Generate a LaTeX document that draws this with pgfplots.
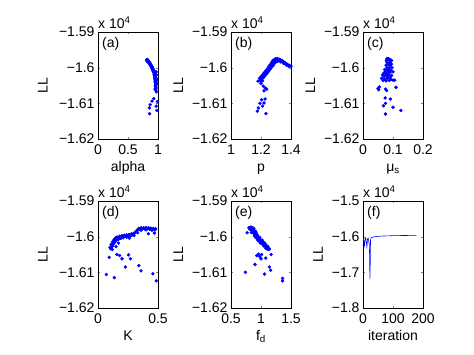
\documentclass[border=0pt]{standalone}
\usepackage{fontspec}
\setmainfont{Liberation Sans}
\usepackage{pgfplots}
\pgfplotsset{compat=1.18}
\definecolor{mblue}{RGB}{0,0,255}
\pgfplotsset{
  panel/.style={
    width=60pt, height=107pt, scale only axis, anchor=south west,
    clip mode=individual,
    tick align=inside, major tick length=2pt,
    ymin=-1.62, ymax=-1.59,
    ytick={-1.62,-1.61,-1.6,-1.59},
    yticklabels={−1.62,−1.61,−1.6,−1.59},
    ylabel={LL},
    ylabel style={at={(axis description cs:-0.88,0.5)}, anchor=center, rotate=0},
    xlabel style={at={(axis description cs:0.5,-0.30)}, anchor=base},
    every tick label/.append style={font=\fontsize{14}{16}\selectfont},
    xticklabel style={yshift=-2.5pt},
    label style={font=\fontsize{14}{16}\selectfont},
    /pgf/number format/assume math mode=true,
  },
  dots/.style={only marks, mark=*, mark size=1.5pt, color=mblue},
}
\newcommand{\tenfour}{\node[anchor=base west, inner sep=0pt, font=\fontsize{14}{16}\selectfont] at (rel axis cs:0,1) [yshift=3.5pt] {x 10\textsuperscript{4}};}
\newcommand{\plabel}[1]{\node[anchor=base west, inner sep=0pt, font=\fontsize{14}{16}\selectfont] at (rel axis cs:0,1) [xshift=4pt, yshift=-16pt] {#1};}
\begin{document}
\begin{tikzpicture}
\path[use as bounding box] (0,0) rectangle (474pt,355pt);
% (a)
\begin{axis}[panel, at={(98pt,216pt)}, xmin=0, xmax=1, xtick={0,0.5,1}, xticklabels={0,0.5,1}, xlabel={alpha},
  ylabel style={at={(axis description cs:-0.92,0.5)}}]
\addplot[dots] coordinates {
(0.81,-1.5978)(0.82,-1.5977)(0.83,-1.5979)(0.84,-1.5980)(0.85,-1.5983)(0.86,-1.5985)(0.87,-1.5988)(0.88,-1.5991)(0.89,-1.5994)(0.90,-1.5997)(0.91,-1.6000)(0.92,-1.6004)(0.93,-1.6008)(0.94,-1.6012)(0.945,-1.6016)(0.95,-1.6020)(0.955,-1.6025)(0.96,-1.6030)(0.96,-1.6035)(0.965,-1.6040)(0.965,-1.6046)(0.965,-1.6052)(0.96,-1.6058)(0.965,-1.6063)(0.97,-1.6068)
(0.82,-1.5982)(0.84,-1.5986)(0.86,-1.5990)(0.88,-1.5996)(0.90,-1.6003)(0.92,-1.6010)(0.935,-1.6018)(0.945,-1.6026)(0.95,-1.6034)(0.955,-1.6042)(0.955,-1.6050)(0.95,-1.6060)(0.975,-1.6020)(0.98,-1.6035)(0.985,-1.6045)
(0.815,-1.5980)(0.835,-1.5983)(0.855,-1.5987)(0.875,-1.5993)(0.895,-1.6000)(0.915,-1.6007)(0.93,-1.6014)(0.94,-1.6022)(0.948,-1.6030)(0.952,-1.6038)(0.958,-1.6046)(0.96,-1.6054)(0.97,-1.6057)(0.975,-1.6030)(0.97,-1.6012)
(0.93,-1.6087)(0.90,-1.6094)(0.87,-1.6104)(0.855,-1.6113)(0.86,-1.6129)(0.97,-1.6108)(0.98,-1.612)(0.99,-1.6095)
};
\tenfour \plabel{(a)}
\end{axis}
% (b)
\begin{axis}[panel, at={(231pt,216pt)}, xmin=1, xmax=1.4, xtick={1,1.2,1.4}, xticklabels={1,1.2,1.4}, xlabel={p}]
\addplot[dots] coordinates {
(1.19,-1.6030)(1.20,-1.6025)(1.21,-1.6020)(1.22,-1.6015)(1.23,-1.6010)(1.24,-1.6004)(1.25,-1.5998)(1.26,-1.5992)(1.27,-1.5986)(1.28,-1.5980)(1.29,-1.5977)
(1.21,-1.6030)(1.22,-1.6026)(1.23,-1.6021)(1.24,-1.6016)(1.25,-1.6010)(1.26,-1.6005)(1.27,-1.5999)(1.28,-1.5994)(1.29,-1.5988)(1.30,-1.5984)(1.31,-1.5982)
(1.20,-1.6033)(1.215,-1.6028)(1.225,-1.6020)(1.235,-1.6014)(1.245,-1.6008)(1.255,-1.6002)(1.265,-1.5996)(1.275,-1.5990)(1.285,-1.5984)(1.295,-1.5979)(1.305,-1.5978)(1.315,-1.5979)(1.325,-1.5981)(1.345,-1.5985)(1.365,-1.5991)(1.385,-1.5996)
(1.30,-1.5975)(1.31,-1.5975)(1.32,-1.5976)(1.33,-1.5978)(1.34,-1.5980)(1.35,-1.5983)(1.36,-1.5986)(1.37,-1.5989)(1.38,-1.5992)(1.39,-1.5994)(1.40,-1.5996)(1.33,-1.5984)(1.35,-1.5988)(1.37,-1.5993)
(1.18,-1.6038)(1.195,-1.6038)(1.21,-1.6037)(1.20,-1.6045)
(1.227,-1.6057)(1.238,-1.606)(1.215,-1.6052)(1.22,-1.6065)(1.204,-1.609)(1.227,-1.6088)(1.193,-1.61)(1.22,-1.6099)(1.182,-1.6113)(1.176,-1.6122)(1.233,-1.6129)(1.21,-1.6108)
};
\tenfour \plabel{(b)}
\end{axis}
% (c)
\begin{axis}[panel, at={(363pt,216pt)}, xmin=0, xmax=0.2, xtick={0,0.1,0.2}, xticklabels={0,0.1,0.2}, xlabel={μ\textsubscript{s}}]
\addplot[dots] coordinates {
(0.08,-1.5975)(0.085,-1.5975)(0.09,-1.5977)(0.078,-1.598)(0.088,-1.598)(0.095,-1.598)(0.08,-1.5985)(0.09,-1.5985)(0.085,-1.599)(0.095,-1.599)(0.077,-1.5993)(0.09,-1.5995)(0.08,-1.6)(0.088,-1.6)(0.097,-1.6)(0.072,-1.6005)(0.083,-1.6005)(0.093,-1.6007)(0.075,-1.601)(0.085,-1.601)(0.07,-1.6015)(0.08,-1.6015)(0.09,-1.6013)(0.1,-1.6012)(0.065,-1.602)(0.075,-1.602)(0.085,-1.602)(0.095,-1.6022)(0.07,-1.6026)(0.08,-1.6025)(0.09,-1.6027)(0.062,-1.603)(0.072,-1.6032)(0.082,-1.603)(0.093,-1.6033)(0.1,-1.6035)(0.067,-1.6036)(0.077,-1.6037)(0.088,-1.6036)(0.106,-1.6035)
(0.052,-1.6062)(0.055,-1.6054)(0.075,-1.606)(0.079,-1.6064)(0.11,-1.6055)(0.074,-1.6085)(0.091,-1.6088)(0.075,-1.61)(0.068,-1.6107)(0.1,-1.6111)(0.126,-1.612)(0.075,-1.613)(0.05,-1.6058)
};
\tenfour \plabel{(c)}
\end{axis}
% (d)
\begin{axis}[panel, at={(98pt,47pt)}, xmin=0, xmax=0.5, xtick={0,0.5}, xticklabels={0,0.5}, xlabel={K},
  ylabel style={at={(axis description cs:-0.92,0.5)}}]
\addplot[dots] coordinates {
(0.10,-1.6030)(0.11,-1.6022)(0.12,-1.6015)(0.13,-1.6010)(0.14,-1.6006)(0.15,-1.6003)(0.16,-1.6001)(0.18,-1.5999)(0.20,-1.5997)(0.22,-1.5996)(0.24,-1.5995)(0.26,-1.5994)(0.28,-1.5992)(0.30,-1.5990)(0.32,-1.5984)(0.33,-1.5980)(0.34,-1.5977)(0.36,-1.5975)(0.38,-1.5975)(0.40,-1.5975)(0.42,-1.5975)(0.44,-1.5976)(0.46,-1.5977)(0.48,-1.5978)
(0.11,-1.6033)(0.12,-1.6027)(0.13,-1.6020)(0.14,-1.6015)(0.15,-1.6011)(0.17,-1.6008)(0.19,-1.6005)(0.21,-1.6003)(0.24,-1.6001)(0.27,-1.5999)(0.30,-1.5997)(0.33,-1.5989)(0.36,-1.5982)(0.40,-1.5981)(0.45,-1.5982)
(0.105,-1.6034)(0.115,-1.6027)(0.125,-1.6022)(0.135,-1.6016)(0.145,-1.6010)(0.155,-1.6007)(0.165,-1.6005)(0.185,-1.6002)(0.205,-1.6000)(0.225,-1.5999)(0.25,-1.5997)(0.29,-1.5995)(0.31,-1.5989)(0.325,-1.5984)(0.345,-1.5980)(0.37,-1.5978)(0.39,-1.5978)(0.41,-1.5978)(0.43,-1.5979)(0.455,-1.5980)(0.475,-1.5981)
(0.12,-1.6036)(0.15,-1.6028)(0.17,-1.6018)(0.26,-1.6004)(0.42,-1.5992)(0.47,-1.5990)
(0.094,-1.6058)(0.158,-1.605)(0.18,-1.6053)(0.2,-1.6062)(0.255,-1.6051)(0.27,-1.6062)(0.228,-1.6085)(0.34,-1.6081)(0.358,-1.6096)(0.458,-1.6104)(0.486,-1.6124)(0.07,-1.6106)(0.136,-1.6115)
};
\tenfour \plabel{(d)}
\end{axis}
% (e)
\begin{axis}[panel, at={(231pt,47pt)}, xmin=0.5, xmax=1.5, xtick={0.5,1,1.5}, xticklabels={0.5,1,1.5}, xlabel={f\textsubscript{d}}]
\addplot[dots] coordinates {
(0.80,-1.5975)(0.83,-1.5973)(0.86,-1.5975)(0.88,-1.5977)(0.82,-1.5980)(0.85,-1.5982)(0.88,-1.5984)(0.91,-1.5985)(0.84,-1.5988)(0.87,-1.5990)(0.90,-1.5992)(0.93,-1.5994)(0.89,-1.5998)(0.92,-1.6000)(0.95,-1.6001)(0.98,-1.6002)(0.93,-1.6005)(0.96,-1.6008)(0.99,-1.6008)(1.02,-1.6010)(0.97,-1.6013)(1.00,-1.6015)(1.04,-1.6015)(1.06,-1.6018)(1.02,-1.6020)(1.05,-1.6023)(1.08,-1.6024)(1.06,-1.6028)(1.09,-1.6030)(1.12,-1.6030)(1.10,-1.6034)(1.14,-1.6035)(0.77,-1.5989)
(0.81,-1.5978)(0.84,-1.5977)(0.87,-1.5980)(0.90,-1.5988)(0.86,-1.5985)(0.92,-1.5990)(0.94,-1.5997)(0.91,-1.6002)(0.97,-1.6004)(0.95,-1.6010)(1.00,-1.6011)(0.99,-1.6018)(1.03,-1.6017)(1.04,-1.6025)(1.07,-1.6021)(1.08,-1.6032)(1.11,-1.6027)(1.12,-1.6036)
(0.93,-1.6053)(0.96,-1.6049)(1.01,-1.605)(0.98,-1.6056)(1.08,-1.606)(1.17,-1.605)(0.9,-1.6078)(1.14,-1.6085)(1.16,-1.6094)(1.06,-1.6105)(0.74,-1.61)(1.36,-1.6117)(1.36,-1.6124)(1.0,-1.6062)
};
\tenfour \plabel{(e)}
\end{axis}
% (f)
\begin{axis}[panel, at={(363pt,47pt)}, xmin=0, xmax=200, xtick={0,100,200}, xticklabels={0,100,200}, xlabel={iteration},
  ymin=-1.8, ymax=-1.5, ytick={-1.8,-1.7,-1.6,-1.5}, yticklabels={−1.8,−1.7,−1.6,−1.5},
  ylabel style={at={(axis description cs:-0.75,0.5)}}]
\addplot[mblue, line width=0.6pt] coordinates {
(1,-1.605)(3,-1.612)(5,-1.625)(7,-1.606)(9,-1.603)(11,-1.615)(13,-1.628)(15,-1.607)(17,-1.604)(19,-1.612)(21,-1.622)(22,-1.65)(23,-1.72)(24,-1.68)(25,-1.61)(27,-1.604)(30,-1.602)(35,-1.601)(40,-1.600)(50,-1.599)(60,-1.5985)(80,-1.5978)(100,-1.5973)(130,-1.5968)(160,-1.5965)(178,-1.5963)
};
\tenfour \plabel{(f)}
\end{axis}
\end{tikzpicture}
\end{document}
